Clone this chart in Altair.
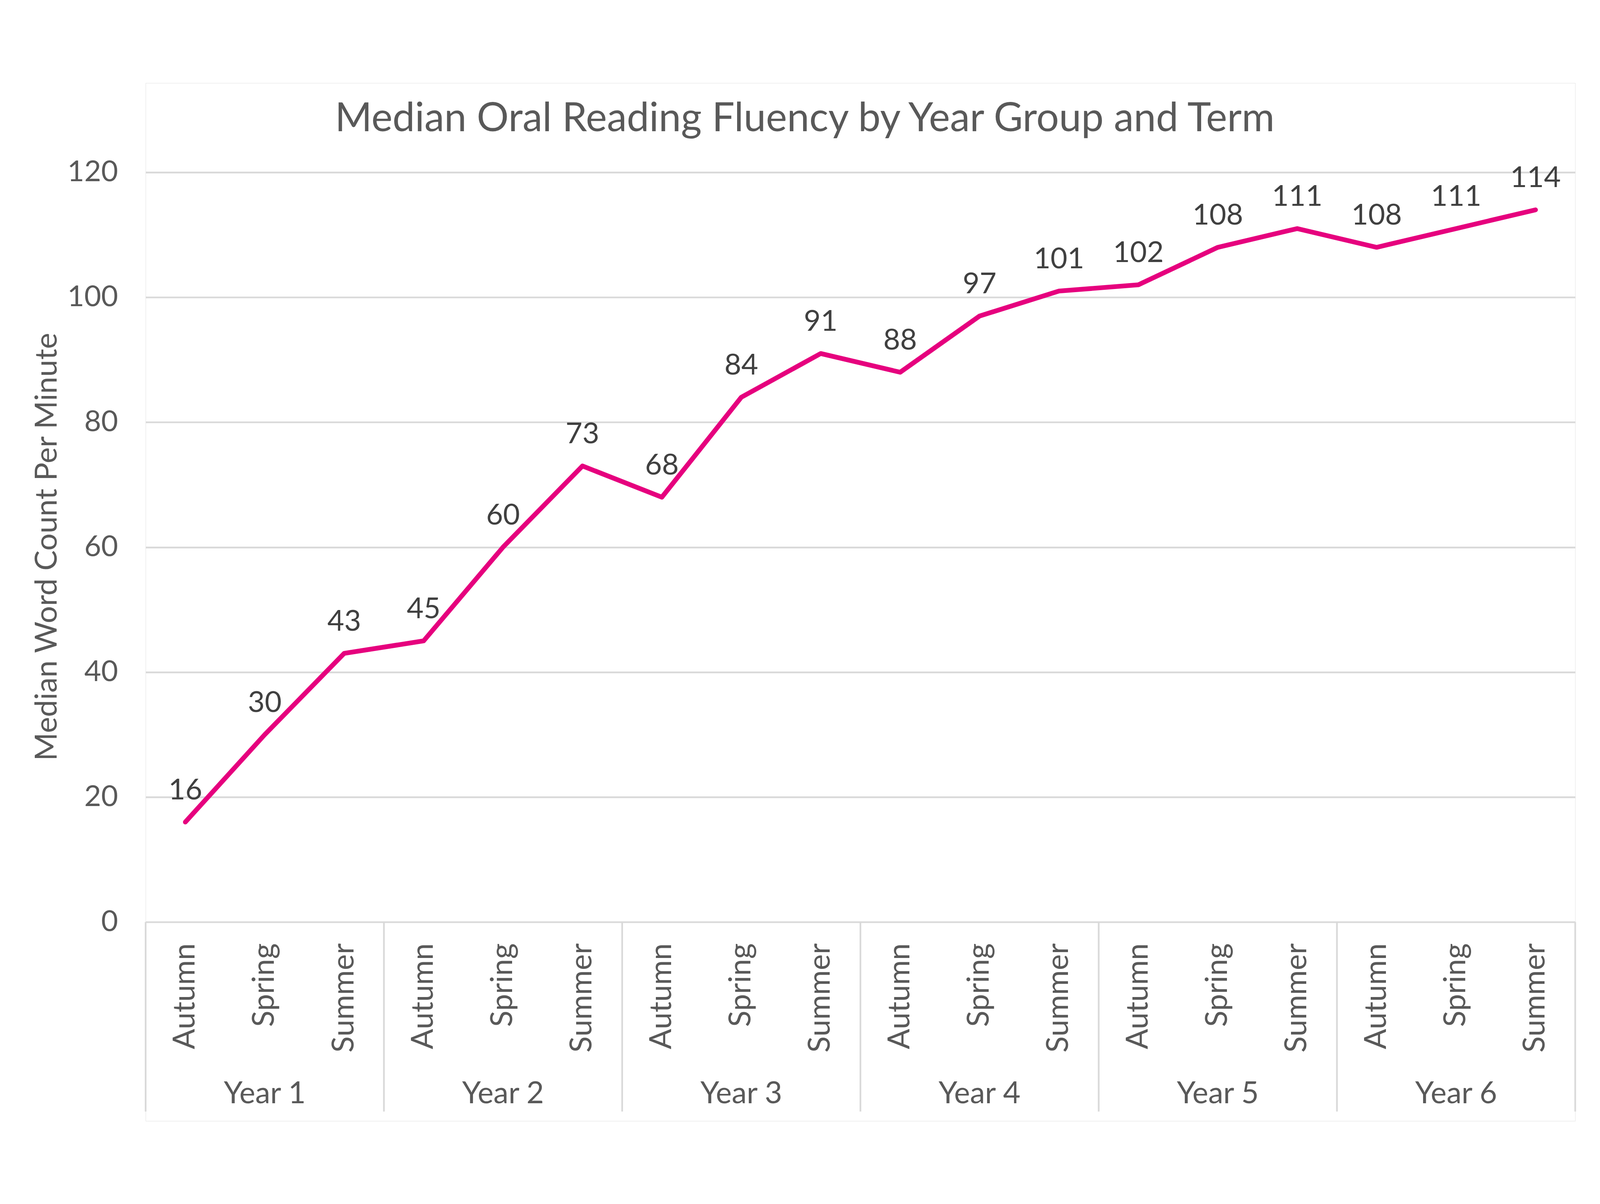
import altair as alt
import pandas as pd

years = ["Year 1", "Year 2", "Year 3", "Year 4", "Year 5", "Year 6"]
terms = ["Autumn", "Spring", "Summer"]
values = [16, 30, 43, 45, 60, 73, 68, 84, 91, 88, 97, 101, 102, 108, 111, 108, 111, 114]
y_ticks = [0, 20, 40, 60, 80, 100, 120]
title_text = "Median Oral Reading Fluency by Year Group and Term"
y_title = "Median Word Count Per Minute"

rows = []
i = 0
for yr in years:
    for t in terms:
        rows.append({"key": f"{yr}|{t}", "year": yr, "term": t, "value": values[i]})
        i += 1
df = pd.DataFrame(rows)
order = list(df["key"])

# whole chart frame (page is 4724 x 3083 with an 8px margin)
W, H = 4223, 3067
Y0, Y120 = 2479, 264          # pixel rows of the value 0 and 120 inside the frame
AXIS_Y = Y0
FONT = "Lato"
LINE = "#E6007E"
GRID = "#d9d9d9"
AXC = "#595959"

xscale = alt.Scale(type="band", domain=order, paddingInner=0, paddingOuter=0)
yscale = alt.Scale(domain=[0, 120], range=[Y0, Y120], nice=False, zero=True)

base = alt.Chart(df)

line = base.mark_line(color=LINE, strokeWidth=14, strokeCap="round", strokeJoin="round").encode(
    x=alt.X("key:N", scale=xscale, sort=order, bandPosition=0.5, axis=None),
    y=alt.Y("value:Q", scale=yscale,
            axis=alt.Axis(values=y_ticks, title=y_title, titleFont=FONT, titleFontSize=90,
                          titleFontWeight="normal", titleColor=AXC, titleAngle=-90,
                          titleX=-263, titleY=1370, titleAlign="center", titleBaseline="alphabetic",
                          labelFont=FONT, labelFontSize=86, labelColor=AXC, labelPadding=82,
                          ticks=False, domain=False, gridColor=GRID, gridWidth=5)),
)

labels = base.mark_text(font=FONT, fontSize=86, color="#404040", baseline="alphabetic", dy=-67).encode(
    x=alt.X("key:N", scale=xscale, sort=order, bandPosition=0.5, axis=None),
    y=alt.Y("value:Q", scale=yscale),
    text=alt.Text("value:Q"),
)

term_labels = base.mark_text(font=FONT, fontSize=89, color=AXC, angle=270, align="right",
                             baseline="middle").encode(
    x=alt.X("key:N", scale=xscale, sort=order, bandPosition=0.5, axis=None),
    y=alt.value(AXIS_Y + 63),
    text=alt.Text("term:N"),
)

div_left = base.transform_filter(alt.datum.term == "Autumn").mark_rule(color=GRID, strokeWidth=5).encode(
    x=alt.X("key:N", scale=xscale, sort=order, bandPosition=0, axis=None),
    y=alt.value(AXIS_Y),
    y2=alt.value(AXIS_Y + 560),
)
div_right = base.transform_filter(alt.datum.key == order[-1]).mark_rule(color=GRID, strokeWidth=5).encode(
    x=alt.X("key:N", scale=xscale, sort=order, bandPosition=1, axis=None),
    y=alt.value(AXIS_Y),
    y2=alt.value(AXIS_Y + 560),
)

year_labels = base.transform_filter(alt.datum.term == "Spring").mark_text(
    font=FONT, fontSize=89, color=AXC, baseline="alphabetic", align="center"
).encode(
    x=alt.X("key:N", scale=xscale, sort=order, bandPosition=0.5, axis=None),
    y=alt.value(AXIS_Y + 536),
    text=alt.Text("year:N"),
)

title = alt.Chart(pd.DataFrame({"t": [title_text]})).mark_text(
    font=FONT, fontSize=118, color=AXC, baseline="alphabetic", align="center"
).encode(
    x=alt.value(1947),
    y=alt.value(142),
    text=alt.Text("t:N"),
)

chart = alt.layer(line, labels, term_labels, div_left, div_right, year_labels, title).properties(
    width=W,
    height=H,
    autosize="none",
    padding={"left": 421, "top": 0, "right": 64, "bottom": 0},
).configure_view(strokeWidth=0, stroke="white", fill="white").configure(background="white")

chart.save("out.html", embed_options={"renderer": "svg", "actions": False})
